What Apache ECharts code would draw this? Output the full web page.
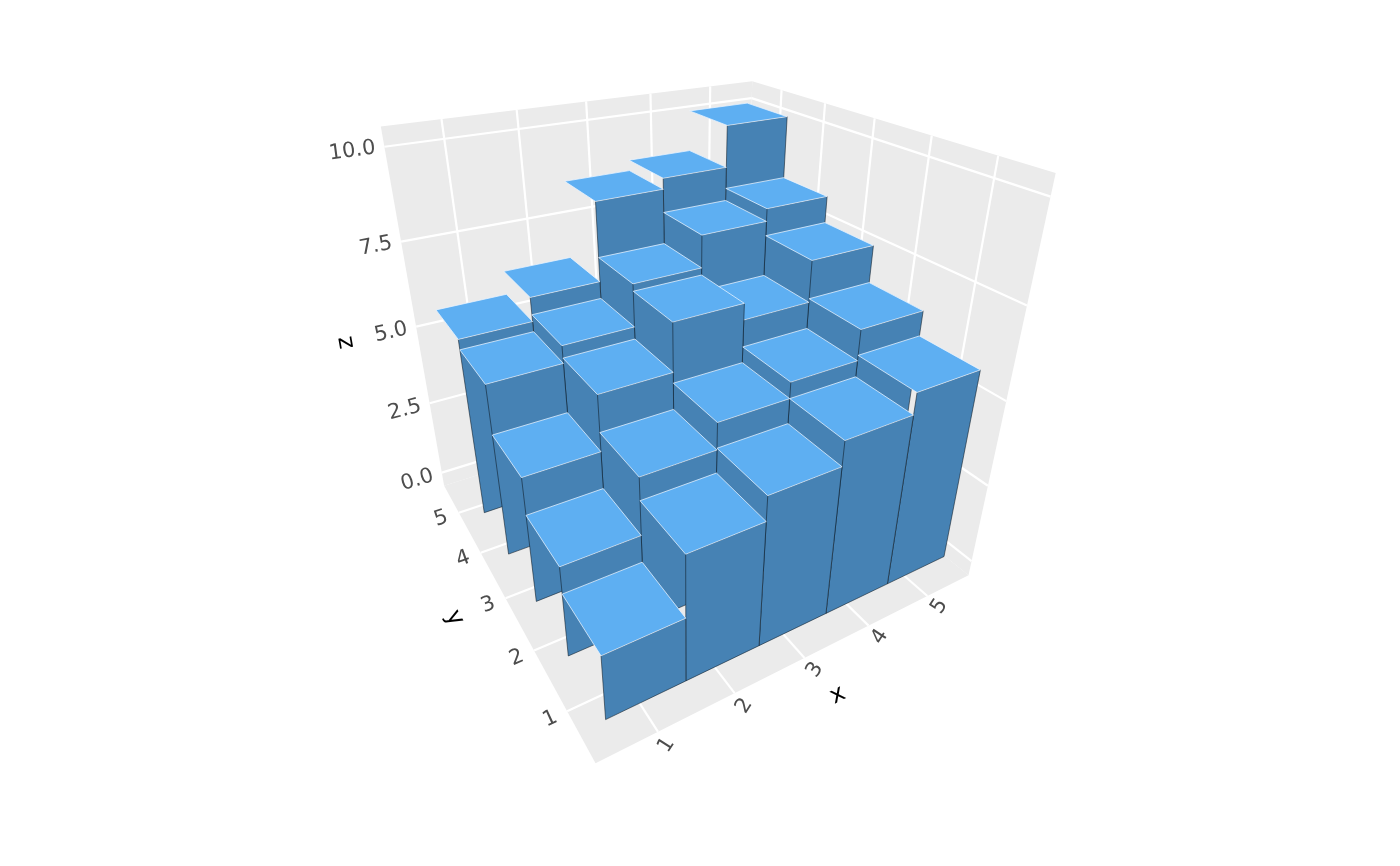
<!DOCTYPE html>
<html>
<head>
<meta charset="utf-8">
<script src="https://cdn.jsdelivr.net/npm/echarts@6/dist/echarts.min.js"></script>
<style>
html,body{margin:0;padding:0;background:#ffffff;}
#chart{width:1400px;height:866px;}
</style>
</head>
<body>
<div id="chart"></div>
<script>
// ---------------- data ----------------
const xCategories = [1, 2, 3, 4, 5];
const yCategories = [1, 2, 3, 4, 5];
const zRowY1 = [1.95, 3.75, 4.45, 5.15, 5.75];
const zRowY2 = [2.75, 4.40, 5.15, 5.60, 6.45];
const zRowY3 = [3.85, 5.45, 6.80, 6.35, 7.50];
const zRowY4 = [5.30, 5.80, 7.00, 7.90, 8.25];
const zRowY5 = [5.60, 6.30, 8.55, 8.85, 10.00];
const zRows = [zRowY1, zRowY2, zRowY3, zRowY4, zRowY5];
const xTickLabels = ['1', '2', '3', '4', '5'];
const yTickLabels = ['1', '2', '3', '4', '5'];
const zTicks = [0, 2.5, 5, 7.5, 10];
const zTickLabels = ['0.0', '2.5', '5.0', '7.5', '10.0'];
const axisTitles = { x: 'x', y: 'y', z: 'z' };

// ---------------- scales / view ----------------
const W = 1400, H = 866;
const xLim = [0.25, 5.75], yLim = [0.25, 5.75], zLim = [-0.5, 10.5];
const barWidth = 1;
const view = { azimuth: 59.5, elevation: 29.2, distance: 1.968, focal: 843, cx: 688, cy: 361, aspect: [1, 1, 1] };

const colors = {
  panel: '#EBEBEB', grid: '#FFFFFF', barTop: '#5EAFF2', barSide: '#4682B4',
  sideEdge: 'rgba(10,20,30,0.9)', topEdge: 'rgba(235,245,255,0.95)', tick: '#4D4D4D', title: '#000000'
};
const FONT = '"DejaVu Sans", "Liberation Sans", sans-serif';

const deg = Math.PI / 180;
const az = view.azimuth * deg, el = view.elevation * deg;
const fwd = [Math.cos(el) * Math.cos(az), Math.cos(el) * Math.sin(az), -Math.sin(el)];
const up = [Math.sin(el) * Math.cos(az), Math.sin(el) * Math.sin(az), Math.cos(el)];
const right = [Math.sin(az), -Math.cos(az), 0];
const boxCenter = view.aspect.map(a => a / 2);
const eye = boxCenter.map((c, k) => c - view.distance * fwd[k]);
const dot = (a, b) => a[0] * b[0] + a[1] * b[1] + a[2] * b[2];

function toBox(x, y, z) {
  return [
    (x - xLim[0]) / (xLim[1] - xLim[0]) * view.aspect[0],
    (y - yLim[0]) / (yLim[1] - yLim[0]) * view.aspect[1],
    (z - zLim[0]) / (zLim[1] - zLim[0]) * view.aspect[2]
  ];
}
function camSpace(x, y, z) {
  const p = toBox(x, y, z);
  const d = [p[0] - eye[0], p[1] - eye[1], p[2] - eye[2]];
  return [dot(d, right), dot(d, up), dot(d, fwd)];
}
function proj(p) {
  const c = camSpace(p[0], p[1], p[2]);
  return [c[0] / c[2], c[1] / c[2]];
}
function P(api, p) { return api.coord(proj(p)); }
function unit(a, b) { const dx = b[0] - a[0], dy = b[1] - a[1]; const l = Math.hypot(dx, dy) || 1; return [dx / l, dy / l]; }
function ccwAngle(d) { return Math.atan2(-d[1], d[0]); }

// ---------------- panels ----------------
const [x0L, x1L] = xLim, [y0L, y1L] = yLim, [z0L, z1L] = zLim;
const panels = [
  [[x0L, y0L, z0L], [x1L, y0L, z0L], [x1L, y1L, z0L], [x0L, y1L, z0L]],
  [[x0L, y1L, z0L], [x1L, y1L, z0L], [x1L, y1L, z1L], [x0L, y1L, z1L]],
  [[x1L, y0L, z0L], [x1L, y1L, z0L], [x1L, y1L, z1L], [x1L, y0L, z1L]]
];

// ---------------- grid lines ----------------
const gridLines = [];
xCategories.forEach(x => {
  gridLines.push([[x, y0L, z0L], [x, y1L, z0L]]);
  gridLines.push([[x, y1L, z0L], [x, y1L, z1L]]);
});
yCategories.forEach(y => {
  gridLines.push([[x0L, y, z0L], [x1L, y, z0L]]);
  gridLines.push([[x1L, y, z0L], [x1L, y, z1L]]);
});
zTicks.forEach(z => {
  gridLines.push([[x0L, y1L, z], [x1L, y1L, z]]);
  gridLines.push([[x1L, y0L, z], [x1L, y1L, z]]);
});

// ---------------- bars (sorted far -> near) ----------------
const barData = [];
yCategories.forEach((y, j) => {
  xCategories.forEach((x, i) => {
    barData.push([x, y, zRows[j][i]]);
  });
});
barData.sort((a, b) => camSpace(b[0], b[1], 0)[2] - camSpace(a[0], a[1], 0)[2]);

// ---------------- labels ----------------
const labels = [];
zTicks.forEach((z, k) => labels.push({ text: zTickLabels[k], kind: 'ztick', a: [x0L, y1L, z], b: [x1L, y1L, z] }));
yCategories.forEach((y, k) => labels.push({ text: yTickLabels[k], kind: 'ytick', a: [x0L, y, z0L], b: [x1L, y, z0L] }));
xCategories.forEach((x, k) => labels.push({ text: xTickLabels[k], kind: 'xtick', a: [x, y0L, z0L], b: [x, y1L, z0L] }));
labels.push({ text: axisTitles.z, kind: 'ztitle', a: [x0L, y1L, (z0L + z1L) / 2], b: [x1L, y1L, (z0L + z1L) / 2] });
labels.push({ text: axisTitles.y, kind: 'ytitle', a: [x0L, (y0L + y1L) / 2, z0L], b: [x1L, (y0L + y1L) / 2, z0L] });
labels.push({ text: axisTitles.x, kind: 'xtitle', a: [(x0L + x1L) / 2, y0L, z0L], b: [(x0L + x1L) / 2, y1L, z0L] });

const labelStyle = {
  ztick: { gap: 9, align: 'right', size: 21, color: colors.tick },
  ytick: { gap: 12, align: 'right', size: 21, color: colors.tick },
  xtick: { gap: 16, align: 'center', size: 21, color: colors.tick, fixedRot: 57 },
  ztitle: { gap: 72, align: 'center', size: 24, color: colors.title },
  ytitle: { gap: 55, align: 'center', size: 24, color: colors.title },
  xtitle: { gap: 50, align: 'center', size: 24, color: colors.title }
};

function polygon(api, pts, fill, stroke, lw, z2) {
  return {
    type: 'polygon', z2: z2,
    shape: { points: pts.map(p => P(api, p)) },
    style: { fill: fill, stroke: stroke, lineWidth: lw, lineJoin: 'round' }
  };
}

const chart = echarts.init(document.getElementById('chart'), null, { renderer: 'canvas', width: W, height: H });

const option = {
  backgroundColor: '#ffffff',
  animation: false,
  grid: { left: 0, right: 0, top: 0, bottom: 0 },
  xAxis: { type: 'value', show: false, min: -view.cx / view.focal, max: (W - view.cx) / view.focal },
  yAxis: { type: 'value', show: false, min: -(H - view.cy) / view.focal, max: view.cy / view.focal },
  series: [
    {
      type: 'custom', name: 'panels', clip: false, silent: true, z: 1,
      data: panels.map((p, i) => [i]),
      renderItem: (params, api) => polygon(api, panels[params.dataIndex], colors.panel, null, 0, 0)
    },
    {
      type: 'custom', name: 'grid', clip: false, silent: true, z: 2,
      data: gridLines.map((g, i) => [i]),
      renderItem: (params, api) => {
        const g = gridLines[params.dataIndex];
        const a = P(api, g[0]), b = P(api, g[1]);
        return { type: 'line', shape: { x1: a[0], y1: a[1], x2: b[0], y2: b[1] }, style: { stroke: colors.grid, lineWidth: 2.2 } };
      }
    },
    {
      type: 'custom', name: 'bars', clip: false, z: 3,
      data: barData,
      renderItem: (params, api) => {
        const x = api.value(0), y = api.value(1), v = api.value(2);
        const h = barWidth / 2;
        const xa = x - h, xb = x + h, ya = y - h, yb = y + h;
        const base = params.dataIndex * 2;
        const frontFace = [[xa, ya, 0], [xb, ya, 0], [xb, ya, v], [xa, ya, v]];
        const topFace = [[xa, ya, v], [xb, ya, v], [xb, yb, v], [xa, yb, v]];
        return {
          type: 'group',
          children: [
            polygon(api, frontFace, colors.barSide, colors.sideEdge, 0.6, base),
            polygon(api, topFace, colors.barTop, colors.topEdge, 0.8, base + 1)
          ]
        };
      }
    },
    {
      type: 'custom', name: 'labels', clip: false, silent: true, z: 4,
      data: labels.map((l, i) => [i]),
      renderItem: (params, api) => {
        const l = labels[params.dataIndex];
        const st = labelStyle[l.kind];
        const pa = P(api, l.a), pb = P(api, l.b);
        const d = unit(pa, pb);
        const pos = [pa[0] - d[0] * st.gap, pa[1] - d[1] * st.gap];
        let rot;
        if (st.fixedRot !== undefined) rot = st.fixedRot * deg;
        else if (l.kind === 'ztitle') {
          rot = ccwAngle(unit(P(api, [x0L, y1L, z0L]), P(api, [x0L, y1L, z1L])));
        } else if (l.kind === 'ytitle') {
          rot = ccwAngle(unit(P(api, [x0L, y1L, z0L]), P(api, [x0L, y0L, z0L])));
        } else if (l.kind === 'xtitle') {
          rot = ccwAngle(unit(P(api, [x0L, y0L, z0L]), P(api, [x1L, y0L, z0L])));
        } else rot = ccwAngle(d);
        return {
          type: 'text', x: pos[0], y: pos[1], rotation: rot,
          style: { x: 0, y: 0, text: l.text, fill: st.color, fontSize: st.size, fontFamily: FONT, align: st.align, verticalAlign: 'middle' }
        };
      }
    }
  ]
};
chart.setOption(option);
</script>
</body>
</html>
